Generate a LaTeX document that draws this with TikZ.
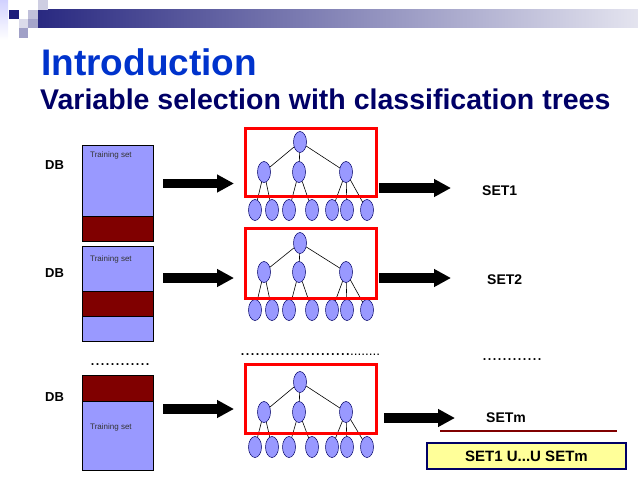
\documentclass[tikz,border=0pt]{standalone}
\usepackage{fontspec}
\setmainfont{Liberation Sans}
\usetikzlibrary{positioning, arrows.meta, shapes.geometric}
\definecolor{navy}{HTML}{000066}
\definecolor{titleblue}{HTML}{0033CC}
\definecolor{lav}{HTML}{9999FF}
\definecolor{maroon}{HTML}{800000}
\definecolor{lemon}{HTML}{FFFF99}
\definecolor{hdnavy}{HTML}{1E1E7A}

\begin{document}
\begin{tikzpicture}[x=1pt, y=-1pt,
    dbbox/.style={rectangle, draw, fill=lav, minimum width=71pt, inner sep=0pt, line width=0.6pt, anchor=north west},
    band/.style={rectangle, draw, fill=maroon, minimum width=71pt, inner sep=0pt, line width=0.6pt, anchor=north west},
    tnode/.style={ellipse, draw=navy, fill=lav, minimum width=13pt, minimum height=21pt, inner sep=0pt, line width=0.5pt},
    twig/.style={line width=0.6pt},
    redbox/.style={rectangle, draw=red, line width=3.5pt, minimum width=131pt, inner sep=0pt, anchor=north west},
    bigarr/.style={-{Triangle[length=17pt, width=17pt]}, line width=9.5pt},
    lbl/.style={font=\fontsize{13}{13}\selectfont\bfseries, inner sep=0pt, anchor=base west},
    setlbl/.style={font=\fontsize{14}{14}\selectfont\bfseries, inner sep=0pt, anchor=base west},
    small/.style={font=\fontsize{8}{8}\selectfont, text=black!80, inner sep=0pt, anchor=base west},
    dots/.style={font=\fontsize{18}{18}\selectfont, inner sep=0pt, anchor=base west},
  ]
    \useasboundingbox (0,0) rectangle (638,479);

    % header
    \shade[top color=lav!45, bottom color=white] (0,0) rectangle (8,40);
    \shade[left color=hdnavy!95, middle color=hdnavy!45, right color=hdnavy!12] (38,9) rectangle (638,27);
    \fill[hdnavy] (9,10) rectangle (19,19);
    \fill[hdnavy!22] (38,0) rectangle (48,10);
    \fill[hdnavy!28] (28,10) rectangle (38,19);
    \fill[hdnavy!16] (19,19) rectangle (28,28);
    \fill[hdnavy!40] (28,19) rectangle (38,28);
    \fill[hdnavy!42] (19,28) rectangle (28,38);

    \node[inner sep=0pt, anchor=base west, font=\fontsize{37}{37}\selectfont\bfseries, text=titleblue] (title) at (41,75) {Introduction};
    \node[inner sep=0pt, anchor=base west, font=\fontsize{28.5}{28.5}\selectfont\bfseries, text=navy] (subtitle) at (40,109) {Variable selection with classification trees};

    % databases
    \node[dbbox, minimum height=96pt] (db1) at (82,145) {};
    \node[band, minimum height=25pt] (cut1) at (82,216) {};
    \node[dbbox, minimum height=95pt] (db2) at (82,246) {};
    \node[band, minimum height=25pt] (cut2) at (82,291) {};
    \node[dbbox, minimum height=95pt] (db3) at (82,375) {};
    \node[band, minimum height=26pt] (cut3) at (82,375) {};
    \node[small] (ts1) at (90,157) {Training set};
    \node[small] (ts2) at (90,261) {Training set};
    \node[small] (ts3) at (90,429) {Training set};
    \node[lbl] (dbl1) at (45,169) {DB};
    \node[lbl] (dbl2) at (45,277) {DB};
    \node[lbl] (dbl3) at (45,401) {DB};

    % trees
    \foreach \k/\ry/\my/\ly in {1/142/172/210, 2/243/272/310, 3/382/412/447} {
      \node[tnode] (r\k) at (300,\ry) {};
      \foreach \j/\mx in {1/264, 2/299, 3/346}
        \node[tnode] (m\k\j) at (\mx,\my) {};
      \foreach \j/\lx in {1/255, 2/272, 3/289, 4/312, 5/332, 6/347, 7/367}
        \node[tnode] (l\k\j) at (\lx,\ly) {};
      \foreach \j in {1,2,3}
        \draw[twig] (r\k) -- (m\k\j);
      \foreach \a/\b in {1/1, 1/2, 2/3, 2/4, 3/5, 3/6, 3/7}
        \draw[twig] (m\k\a) -- (l\k\b);
    }
    \node[redbox, minimum height=68pt] (tr1) at (243.5,126.5) {};
    \node[redbox, minimum height=70pt] (tr2) at (243.5,226.5) {};
    \node[redbox, minimum height=69pt] (tr3) at (243.5,362.5) {};

    % arrows
    \coordinate (in1) at (163,183.5);  \coordinate (to1) at (234,183.5);
    \coordinate (in2) at (163,278);    \coordinate (to2) at (234,278);
    \coordinate (in3) at (163,409);    \coordinate (to3) at (234,409);
    \coordinate (out1) at (379,188);   \coordinate (set1) at (451,188);
    \coordinate (out2) at (379,278);   \coordinate (set2) at (451,278);
    \coordinate (out3) at (384,418);   \coordinate (setm) at (455,418);
    \foreach \p/\q in {in1/to1, in2/to2, in3/to3, out1/set1, out2/set2, out3/setm}
      \draw[bigarr] (\p) -- (\q);

    \node[setlbl] (s1) at (482,195) {SET1};
    \node[setlbl] (s2) at (487,284) {SET2};
    \node[setlbl] (sm) at (486,422) {SETm};

    \node[dots] (dl) at (90,365) {............};
    \node[dots] (dm) at (240,355) {......................\fontsize{13.5}{13.5}\selectfont........};
    \node[dots] (dr) at (482,360) {............};

    % union
    \coordinate (rulel) at (440,431);
    \coordinate (ruler) at (617,431);
    \draw[maroon, line width=2pt] (rulel) -- (ruler);
    \node[rectangle, draw=navy, fill=lemon, line width=1.2pt, minimum width=199pt, minimum height=26pt, inner sep=0pt, font=\fontsize{15}{15}\selectfont\bfseries] (union) at (526.5,456) {SET1 U...U SETm};
  \end{tikzpicture}
\end{document}
